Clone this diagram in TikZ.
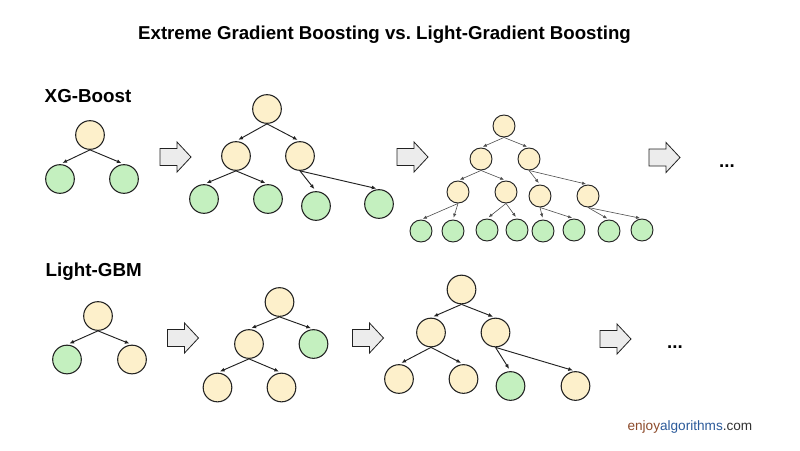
\documentclass[tikz,border=0pt]{standalone}
\usepackage{fontspec}
\setmainfont{Liberation Sans}
\usetikzlibrary{arrows.meta}
\definecolor{nodey}{HTML}{FDF0CB}
\definecolor{nodeg}{HTML}{C4F0BF}
\definecolor{edgec}{HTML}{222222}
\definecolor{brandA}{HTML}{8C4A2A}
\definecolor{brandB}{HTML}{2B5A9A}
\definecolor{brandC}{HTML}{333333}
\tikzset{
  big/.style={circle,draw=edgec,line width=0.8pt,inner sep=0pt,minimum size=21.5pt},
  small/.style={circle,draw=edgec,line width=0.7pt,inner sep=0pt,minimum size=16.5pt},
  yel/.style={fill=nodey},
  grn/.style={fill=nodeg},
  edge/.style={-{Latex[length=3.5pt,width=3pt]},draw=edgec,line width=0.7pt,shorten >=2pt},
  thinedge/.style={-{Latex[length=3pt,width=2.5pt]},draw=edgec!80,line width=0.45pt,shorten >=1.5pt},
  blockarrow/.pic={\draw[line width=0.6pt,draw=edgec,fill=gray!15,line join=miter]
     (-15.5,-8.5) -- (1.5,-8.5) -- (1.5,-15) -- (15.5,0) -- (1.5,15) -- (1.5,8.5) -- (-15.5,8.5) -- cycle;},
  heading/.style={font=\bfseries\fontsize{14.1}{17}\selectfont,anchor=west},
  dots/.style={font=\bfseries\fontsize{14}{16}\selectfont}
}
\begin{document}
\begin{tikzpicture}[x=0.75pt,y=-0.75pt]
\useasboundingbox (0,0) rectangle (800,450);
\fill[white] (0,0) rectangle (800,450);
\node[font=\bfseries\fontsize{14}{16}\selectfont] (title) at (384.5,35) {Extreme Gradient Boosting vs.\ Light-Gradient Boosting};
\node[heading] (xgl) at (40,96) {XG-Boost};
\node[heading] (lgl) at (41,272) {Light-GBM};

% XGB tree 1
\node[big,yel] (a0) at (90,135) {};
\node[big,grn] (a1) at (60,179) {};
\node[big,grn] (a2) at (124,179) {};
\draw[edge] (a0.south) -- (a1.north);
\draw[edge] (a0.south) -- (a2.north);
\pic at (175.5,157) {blockarrow};

% XGB tree 2
\node[big,yel] (b0) at (267,109) {};
\node[big,yel] (b1) at (236,156) {};
\node[big,yel] (b2) at (300,156) {};
\node[big,grn] (b3) at (204,199) {};
\node[big,grn] (b4) at (268,199) {};
\node[big,grn] (b5) at (316,206) {};
\node[big,grn] (b6) at (379,204) {};
\draw[edge] (b0.south) -- (b1.north);
\draw[edge] (b0.south) -- (b2.north);
\draw[edge] (b1.south) -- (b3.north);
\draw[edge] (b1.south) -- (b4.north);
\draw[edge] (b2.south) -- (b5.north);
\draw[edge] (b2.south) -- (b6.north);
\pic at (412.5,157) {blockarrow};

% XGB tree 3
\node[small,yel] (c0) at (504,126) {};
\node[small,yel] (c1) at (481,159) {};
\node[small,yel] (c2) at (529,159) {};
\node[small,yel] (c3) at (458,192) {};
\node[small,yel] (c4) at (506,192) {};
\node[small,yel] (c5) at (540,196) {};
\node[small,yel] (c6) at (588,196) {};
\node[small,grn] (d1) at (421,231) {};
\node[small,grn] (d2) at (453,231) {};
\node[small,grn] (d3) at (487,230) {};
\node[small,grn] (d4) at (517,230) {};
\node[small,grn] (d5) at (543,231) {};
\node[small,grn] (d6) at (574,230) {};
\node[small,grn] (d7) at (609,231) {};
\node[small,grn] (d8) at (642,230) {};
\draw[thinedge] (c0.south) -- (c1.north);
\draw[thinedge] (c0.south) -- (c2.north);
\draw[thinedge] (c1.south) -- (c3.north);
\draw[thinedge] (c1.south) -- (c4.north);
\draw[thinedge] (c2.south) -- (c5.north);
\draw[thinedge] (c2.south) -- (c6.north);
\draw[thinedge] (c3.south) -- (d1.north);
\draw[thinedge] (c3.south) -- (d2.north);
\draw[thinedge] (c4.south) -- (d3.north);
\draw[thinedge] (c4.south) -- (d4.north);
\draw[thinedge] (c5.south) -- (d5.north);
\draw[thinedge] (c5.south) -- (d6.north);
\draw[thinedge] (c6.south) -- (d7.north);
\draw[thinedge] (c6.south) -- (d8.north);
\pic at (664.5,157.5) {blockarrow};
\node[dots] (dt1) at (727,166) {...};

% LGBM tree 1
\node[big,yel] (e0) at (98,316) {};
\node[big,grn] (e1) at (67,359.5) {};
\node[big,yel] (e2) at (132,359.5) {};
\draw[edge] (e0.south) -- (e1.north);
\draw[edge] (e0.south) -- (e2.north);
\pic at (183,338) {blockarrow};

% LGBM tree 2
\node[big,yel] (f0) at (279.5,302) {};
\node[big,yel] (f1) at (249,344) {};
\node[big,grn] (f2) at (313.5,344) {};
\node[big,yel] (f3) at (217.5,387.5) {};
\node[big,yel] (f4) at (281.5,387.5) {};
\draw[edge] (f0.south) -- (f1.north);
\draw[edge] (f0.south) -- (f2.north);
\draw[edge] (f1.south) -- (f3.north);
\draw[edge] (f1.south) -- (f4.north);
\pic at (368,338) {blockarrow};

% LGBM tree 3
\node[big,yel] (g0) at (461.5,289.5) {};
\node[big,yel] (g1) at (431,332.5) {};
\node[big,yel] (g2) at (495.5,332.5) {};
\node[big,yel] (g3) at (399,379) {};
\node[big,yel] (g4) at (463.5,379) {};
\node[big,grn] (g5) at (510.5,386) {};
\node[big,yel] (g6) at (575.5,386) {};
\draw[edge] (g0.south) -- (g1.north);
\draw[edge] (g0.south) -- (g2.north);
\draw[edge] (g1.south) -- (g3.north);
\draw[edge] (g1.south) -- (g4.north);
\draw[edge] (g2.south) -- (g5.north);
\draw[edge] (g2.south) -- (g6.north);
\pic at (615.5,339) {blockarrow};
\node[dots] (dt2) at (675,347) {...};

\node[font=\fontsize{10.2}{12}\selectfont,anchor=east] (brand) at (757,427) {\textcolor{brandA}{enjoy}\textcolor{brandB}{algorithms}\textcolor{brandC}{.com}};
\end{tikzpicture}
\end{document}
